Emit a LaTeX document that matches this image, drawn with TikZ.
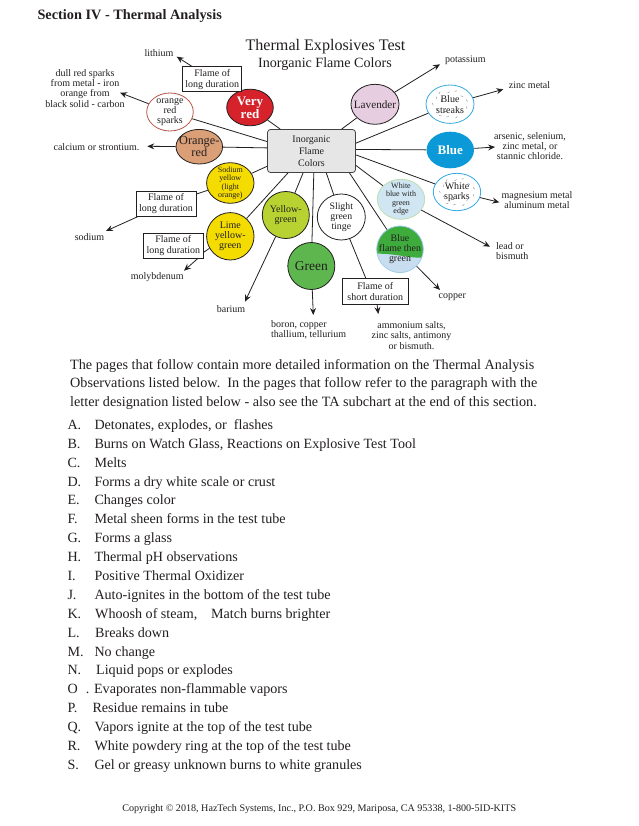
\documentclass[tikz,border=0pt]{standalone}
\usepackage{fontspec}
\setmainfont{Liberation Serif}
\usetikzlibrary{arrows.meta,shapes.geometric,calc}
\definecolor{ink}{HTML}{231F20}
\definecolor{vredc}{HTML}{D6222B}
\definecolor{sparkc}{HTML}{B4574A}
\definecolor{oredc}{HTML}{DA9F77}
\definecolor{yelc}{HTML}{F4DC00}
\definecolor{ygc}{HTML}{B8D331}
\definecolor{grc}{HTML}{5DB74E}
\definecolor{lavc}{HTML}{E6CEE0}
\definecolor{bluec}{HTML}{0B9AD7}
\definecolor{cyanc}{HTML}{35A9E0}
\definecolor{wbfill}{HTML}{D0E7F3}
\definecolor{wbedge}{HTML}{BEDDB0}
\definecolor{bfgreen}{HTML}{3EAC3C}
\definecolor{bfblue}{HTML}{C9DDF0}
\definecolor{bfedge}{HTML}{9FCDEC}
\definecolor{boxc}{HTML}{E6E6E6}
\definecolor{speckc}{HTML}{9A9A9A}
\newcommand{\fsz}[2]{\fontsize{#1}{#2}\selectfont}
\begin{document}
\begin{tikzpicture}[x=1pt,y=-1pt,
  every node/.style={text=ink, inner sep=0pt},
  blob/.style={ellipse, draw=ink, line width=0.8pt},
  btext/.style={align=center},
  lbl/.style={font=\fsz{10}{10.3}, align=center},
  fbox/.style={rectangle, draw=ink, fill=white, line width=0.8pt, align=center, font=\fsz{10}{11}},
  conn/.style={draw=ink, line width=0.8pt},
  arr/.style={conn, -{Stealth[length=7pt,width=6pt,inset=2.5pt]}},
  speck/.style={draw=speckc, line width=0.5pt},
  li/.style={anchor=base west, font=\fsz{14.1}{16}},
  para/.style={anchor=base west, font=\fsz{14.2}{18}}]
\useasboundingbox (0,0) rectangle (638,826);
\fill[white] (0,0) rectangle (638,826);

% titles
\node[anchor=base west, font=\fsz{14.3}{16}\bfseries] (sec) at (37.3,19.3) {Section IV - Thermal Analysis};
\node[anchor=base, font=\fsz{16.1}{18}] (tt1) at (325.5,51) {Thermal Explosives Test};
\node[anchor=base, font=\fsz{14.1}{16}] (tt2) at (325,67.3) {Inorganic Flame Colors};

% central box
\node[rectangle, rounded corners=3pt, draw=ink!85, fill=boxc, line width=0.8pt, minimum width=88pt, minimum height=43pt, align=center, font=\fsz{10}{12}] (cbox) at (311.5,151) {Inorganic\\Flame\\Colors};

% blobs
\node[blob, fill=vredc, minimum width=46.6pt, minimum height=36.6pt] (vred) at (250,107.5) {};
\node[btext, font=\fsz{13}{11}\bfseries, text=white] (vredt) at (vred) {Very\\red};

\node[blob, draw=sparkc, fill=white, minimum width=46.6pt, minimum height=38pt] (osparks) at (170,112) {};
\node[btext, font=\fsz{10}{9.7}] (osparkst) at (osparks) {orange\\red\\sparks};

\node[blob, fill=oredc, minimum width=46.6pt, minimum height=34.6pt] (ored) at (199.3,146.7) {};
\node[btext, font=\fsz{12.3}{10.5}] (oredt) at (ored) {Orange-\\red};

\node[blob, fill=yelc, minimum width=47.4pt, minimum height=40.6pt] (sodium) at (230.3,183) {};
\node[btext, font=\fsz{8}{8.3}] (sodiumt) at (sodium) {Sodium\\yellow\\(light\\orange)};

\node[blob, fill=yelc, minimum width=47.4pt, minimum height=47.4pt] (lime) at (230.3,236.3) {};
\node[btext, font=\fsz{10}{10.3}] (limet) at (lime) {Lime\\yellow-\\green};

\node[blob, fill=ygc, minimum width=47pt, minimum height=47pt] (ygreen) at (285.8,215) {};
\node[btext, font=\fsz{10}{10.3}] (ygreent) at (ygreen) {Yellow-\\green};

\node[blob, fill=grc, minimum width=47pt, minimum height=47pt] (green) at (311.3,266) {};
\node[btext, font=\fsz{13.5}{14}] (greent) at (green) {Green};

\node[blob, fill=white, minimum width=48pt, minimum height=46pt] (slight) at (341.3,217) {};
\node[btext, font=\fsz{9.8}{10}] (slightt) at (slight) {Slight\\green\\tinge};

\node[blob, draw=wbedge, fill=wbfill, minimum width=47.4pt, minimum height=40pt] (wblue) at (401,199.3) {};
\node[btext, font=\fsz{8}{8.5}] (wbluet) at (wblue) {White\\blue with\\green\\edge};

\fill[bfblue] (400,249.3) circle (23.3pt);
\begin{scope}
\clip (400,249.3) circle (23.3pt);
\fill[bfgreen] (370,220) -- (430,220) -- (430,257) .. controls (410,260) and (395,252) .. (370,254) -- cycle;
\end{scope}
\node[ellipse, draw=bfedge, line width=0.8pt, minimum width=46.6pt, minimum height=46.6pt] (bflame) at (400,249.3) {};
\node[btext, font=\fsz{9.9}{10.3}] (bflamet) at (bflame) {Blue\\flame then\\green};

\node[blob, fill=lavc, minimum width=48pt, minimum height=40pt] (lav) at (375,104.3) {};
\node[btext, font=\fsz{11.2}{12}] (lavt) at (lav) {Lavender};

\node[blob, draw=cyanc, fill=white, minimum width=48pt, minimum height=38.4pt] (bstreaks) at (450,104.2) {};
\foreach \a/\r in {10/0.88,40/0.72,65/0.9,95/0.82,120/0.9,150/0.74,175/0.88,205/0.8,230/0.9,260/0.76,285/0.9,315/0.8,340/0.9,30/0.45,200/0.5,300/0.42,110/0.5}
  \draw[speck] ($(bstreaks)+(\a:{19*\r} and {15*\r})$) -- ++({\a+70}:2.4);
\node[btext, font=\fsz{10}{11}] (bstreakst) at (bstreaks) {Blue\\streaks};

\node[blob, draw=none, fill=bluec, minimum width=47.4pt, minimum height=36.6pt] (blue) at (450.3,150) {};
\node[btext, font=\fsz{13}{14}\bfseries, text=white] (bluet) at (blue) {Blue};

\node[blob, draw=cyanc, fill=white, minimum width=47.4pt, minimum height=37.4pt] (wsparks) at (457,192) {};
\foreach \a/\r in {10/0.88,40/0.72,65/0.9,95/0.82,120/0.9,150/0.74,175/0.88,205/0.8,230/0.9,260/0.76,285/0.9,315/0.8,340/0.9,30/0.45,200/0.5,300/0.42,110/0.5}
  \draw[speck] ($(wsparks)+(\a:{19*\r} and {15*\r})$) -- ++({\a+70}:2.4);
\node[btext, font=\fsz{10}{10.7}] (wsparkst) at (wsparks) {White\\sparks};

% rectangle boxes
\node[fbox, minimum width=59pt, minimum height=25pt] (fbox1) at (212.2,79.2) {Flame of\\long duration};
\node[fbox, minimum width=60pt, minimum height=24.3pt] (fbox2) at (166,203.9) {Flame of\\long duration};
\node[fbox, minimum width=60pt, minimum height=25pt] (fbox3) at (173.3,245.8) {Flame of\\long duration};
\node[fbox, minimum width=66pt, minimum height=25.7pt] (fbox4) at (375.3,291.2) {Flame of\\short duration};

% labels
\node[lbl] (lith) at (159,53) {lithium};
\node[lbl] (dull) at (85,88.3) {dull red sparks\\from metal - iron\\orange from\\black solid - carbon};
\node[lbl] (calc) at (96.5,146.7) {calcium or strontium.};
\node[lbl] (sod) at (89.5,237.3) {sodium};
\node[lbl] (moly) at (157.3,276.7) {molybdenum};
\node[lbl] (bar) at (231,309.3) {barium};
\node[lbl, align=left, anchor=west] (boron) at (271,330) {boron, copper\\thallium, tellurium};
\node[lbl] (ammo) at (411.5,335.5) {ammonium salts,\\zinc salts, antimony\\or bismuth.};
\node[lbl] (copr) at (452.3,297) {copper};
\node[lbl, align=left, anchor=west] (lead) at (496,251) {lead or\\bismuth};
\node[lbl] (mag) at (537,200) {magnesium metal\\aluminum metal};
\node[lbl] (ars) at (530,146) {arsenic, selenium,\\zinc metal, or\\stannic chloride.};
\node[lbl] (zinc) at (529.5,85) {zinc metal};
\node[lbl] (pot) at (465.3,60) {potassium};

% arrow end points
\coordinate (lithE) at (176.7,56.7);
\coordinate (dullE) at (120,92.7);
\coordinate (calcE) at (147.3,146.3);
\coordinate (sodE) at (106,231);
\coordinate (molyE) at (184,270.7);
\coordinate (barE) at (245,301.7);
\coordinate (boronE) at (313.3,315);
\coordinate (ammoE) at (378.3,314);
\coordinate (coprE) at (440,290);
\coordinate (leadE) at (490,246.7);
\coordinate (magE) at (499.3,202.3);
\coordinate (arsE) at (495,147);
\coordinate (zincE) at (503.3,89.3);
\coordinate (potE) at (440,64.3);

% connectors from the central box
\draw[conn] (cbox.145) -- (vred);
\draw[conn] (cbox.168) -- (osparks);
\draw[conn] (cbox.176) -- (ored);
\draw[conn] (cbox.-161) -- (sodium);
\draw[conn] (cbox.-137.6) -- (lime);
\draw[conn] (cbox.-111) -- (ygreen);
\draw[conn] (cbox.-84.6) -- (green);
\draw[conn] (cbox.-56) -- (slight);
\draw[conn] (cbox.-30) -- (bflame);
\draw[conn] (cbox.-18) -- (wblue);
\draw[conn] (cbox.-5) -- (wsparks);
\draw[conn] (cbox.2.6) -- (blue);
\draw[conn] (cbox.10) -- (bstreaks);
\draw[conn] (cbox.36) -- (lav);

% secondary connectors
\draw[conn] (sodium) -- (fbox2);
\draw[conn] (lime.-150) -- (fbox3.-12);
\draw[conn] (slight.-69) -- (fbox4.126);

% arrows
\draw[arr] (fbox1) -- (lithE);
\draw[arr] (osparks) -- (dullE);
\draw[arr] (ored) -- (calcE);
\draw[arr] (fbox2) -- (sodE);
\draw[arr] (fbox3.-28) -- (molyE);
\draw[arr] (ygreen) -- (barE);
\draw[arr] (green) -- (boronE);
\draw[arr] (fbox4) -- (ammoE);
\draw[arr] (bflame) -- (coprE);
\draw[arr] (wblue) -- (leadE);
\draw[arr] (wsparks) -- (magE);
\draw[arr] (blue) -- (arsE);
\draw[arr] (bstreaks) -- (zincE);
\draw[arr] (lav) -- (potE);

% paragraph
\node[para] (p1) at (70,369.3) {The pages that follow contain more detailed information on the Thermal Analysis};
\node[para] (p2) at (70,387.7) {Observations listed below.\ \ In the pages that follow refer to the paragraph with the};
\node[para] (p3) at (70,406) {letter designation listed below - also see the TA subchart at the end of this section.};

% list
\node[li] (la) at (67.3,429.3) {A.};  \node[li] (ta) at (94.3,429.3) {Detonates, explodes, or\ \ flashes};
\node[li] (lb) at (67.3,448.2) {B.};  \node[li] (tb) at (94.3,448.2) {Burns on Watch Glass, Reactions on Explosive Test Tool};
\node[li] (lc) at (67.3,467.1) {C.};  \node[li] (tc) at (94.3,467.1) {Melts};
\node[li] (ld) at (67.3,486.0) {D.};  \node[li] (td) at (94.3,486.0) {Forms a dry white scale or crust};
\node[li] (le) at (67.3,504.9) {E.};  \node[li] (te) at (94.3,504.9) {Changes color};
\node[li] (lf) at (67.3,523.8) {F.};  \node[li] (tf) at (94.3,523.8) {Metal sheen forms in the test tube};
\node[li] (lg) at (67.3,542.6) {G.};  \node[li] (tg) at (94.3,542.6) {Forms a glass};
\node[li] (lh) at (67.3,561.5) {H.};  \node[li] (th) at (94.3,561.5) {Thermal pH observations};
\node[li] (lI) at (67.3,580.4) {I.};  \node[li] (tI) at (94.3,580.4) {Positive Thermal Oxidizer};
\node[li] (lj) at (67.3,599.3) {J.};  \node[li] (tj) at (94.3,599.3) {Auto-ignites in the bottom of the test tube};
\node[li] (lk) at (67.3,618.2) {K.};  \node[li] (tk) at (95,618.2) {Whoosh of steam,};
\node[li] (tk2) at (211,618.2) {Match burns brighter};
\node[li] (ll) at (67.3,637.1) {L.};  \node[li] (tl) at (95,637.1) {Breaks down};
\node[li] (lm) at (67.3,656.0) {M.};  \node[li] (tm) at (94.3,656.0) {No change};
\node[li] (ln) at (67.3,674.9) {N.};  \node[li] (tn) at (96,674.9) {Liquid pops or explodes};
\node[li] (lo) at (67.3,693.8) {O};   \node[li] (to) at (85.7,693.8) {. Evaporates non-flammable vapors};
\node[li] (lp) at (67.3,712.7) {P.};  \node[li] (tp) at (92.3,712.7) {Residue remains in tube};
\node[li] (lq) at (67.3,731.5) {Q.};  \node[li] (tq) at (94.3,731.5) {Vapors ignite at the top of the test tube};
\node[li] (lr) at (67.3,750.4) {R.};  \node[li] (tr) at (94.3,750.4) {White powdery ring at the top of the test tube};
\node[li] (ls) at (67.3,769.3) {S.};  \node[li] (ts) at (94.3,769.3) {Gel or greasy unknown burns to white granules};

% footer
\node[anchor=base, font=\fsz{10.1}{12}] (copy) at (319.2,811) {Copyright © 2018, HazTech Systems, Inc., P.O. Box 929, Mariposa, CA 95338, 1-800-5ID-KITS};
\end{tikzpicture}
\end{document}
